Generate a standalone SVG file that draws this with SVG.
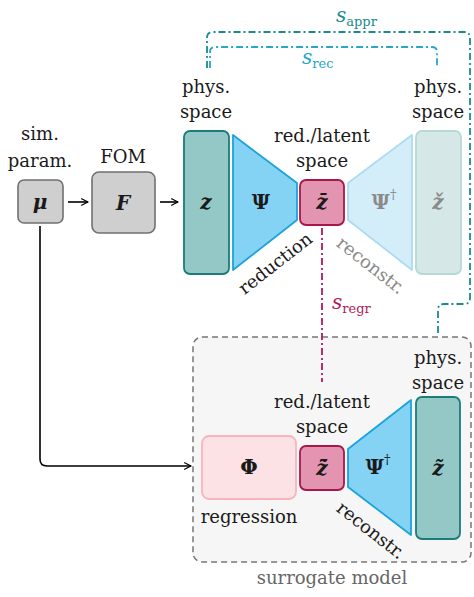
<svg xmlns="http://www.w3.org/2000/svg" width="474" height="597" viewBox="0 0 474 597" font-family="'DejaVu Serif', 'Liberation Serif', serif">
<defs>
<marker id="arr" viewBox="0 0 10 10" refX="9" refY="5" markerWidth="8" markerHeight="8" markerUnits="userSpaceOnUse" orient="auto">
<path d="M1,1 L9,5 L1,9" fill="none" stroke="#000" stroke-width="1.6" stroke-linecap="round" stroke-linejoin="round"/>
</marker>
<style>
text{fill:#1a1a1a}
.lbl{font-size:18px;text-anchor:middle}
.math{font-size:20px;text-anchor:middle;font-weight:bold;dominant-baseline:central}
.it{font-style:italic}
.gray{fill:#cfcfcf;stroke:#707070;stroke-width:1.6}
.teal{fill:#93c8c6;stroke:#1b7c7a;stroke-width:1.8}
.blue{fill:#84d3f5;stroke:#1ba3dc;stroke-width:1.8;stroke-linejoin:round}
.pink{fill:#e394b0;stroke:#a8174a;stroke-width:1.8}
.rose{fill:#fde2e5;stroke:#f6b5bd;stroke-width:1.8}
.fblue{fill:#d4eef9;stroke:#abdcf1;stroke-width:1.8;stroke-linejoin:round}
.fteal{fill:#d5e8e7;stroke:#b6d9d7;stroke-width:1.8}
.conn{fill:none;stroke:#000;stroke-width:1.6}
.dd{fill:none;stroke-width:1.8;stroke-dasharray:7 3 2 3}
</style>
</defs>

<g id="surrogate-box">
<rect x="193" y="337" width="278" height="225" rx="9" fill="#f6f6f6" stroke="#777" stroke-width="1.5" stroke-dasharray="6 4"/>
<text class="lbl" x="332" y="584" style="fill:#666">surrogate model</text>
</g>

<g id="connectors">
<path class="conn" d="M68,202 H88" marker-end="url(#arr)"/>
<path class="conn" d="M160,202 H178" marker-end="url(#arr)"/>
<path class="conn" d="M40,226 V459 Q40,466 47,466 H191" marker-end="url(#arr)"/>
<path class="dd" stroke="#1a8a8c" d="M207,68 V38 Q207,32 213,32 H464 Q470,32 470,38 V298 Q470,304 464,304 H444 Q438,304 438,310 V336"/>
<path class="dd" stroke="#26a6c8" d="M210,68 V52 Q210,47 215,47 H432 Q437,47 437,52 V68"/>
<path class="dd" stroke="#b01a5a" d="M322,228 V382"/>
<text x="336" y="22" style="font-size:20px;fill:#1a8a8c" class="it">s<tspan style="font-style:normal;font-size:13px" dy="4">appr</tspan></text>
<text x="302" y="64" style="font-size:20px;fill:#26a6c8" class="it">s<tspan style="font-style:normal;font-size:13px" dy="4">rec</tspan></text>
<text x="332" y="309" style="font-size:20px;fill:#b01a5a" class="it">s<tspan style="font-style:normal;font-size:13px" dy="4">regr</tspan></text>
</g>

<g id="mu">
<text class="lbl" x="40" y="140">sim.</text>
<text class="lbl" x="40" y="167">param.</text>
<rect class="gray" x="18" y="180" width="45" height="43" rx="6"/>
<text class="math it" x="40" y="202">μ</text>
</g>

<g id="fom">
<text class="lbl" x="123" y="163">FOM</text>
<rect class="gray" x="92" y="172" width="63" height="61" rx="7"/>
<text class="math it" x="123" y="203">F</text>
</g>

<g id="z">
<text class="lbl" x="206" y="93">phys.</text>
<text class="lbl" x="206" y="118">space</text>
<rect class="teal" x="184" y="131" width="45" height="143" rx="6"/>
<text class="math it" x="206" y="202">z</text>
</g>

<g id="psi">
<path class="blue" d="M233,135 L297,183 V220 L233,270 Z"/>
<text class="math" x="261" y="202">Ψ</text>
<text class="lbl" x="275" y="263" dominant-baseline="central" transform="rotate(-38 275 263)">reduction</text>
</g>

<g id="zbar">
<text class="lbl" x="322" y="142">red./latent</text>
<text class="lbl" x="322" y="167">space</text>
<rect class="pink" x="300" y="180" width="44" height="45" rx="6"/>
<text class="math it" x="322" y="202">z̄</text>
</g>

<g id="psidag-faded">
<path class="fblue" d="M348,183 L412,135 V270 L348,220 Z"/>
<text class="math" x="384" y="202" style="fill:#8a8a8a">Ψ<tspan style="font-size:13px;font-weight:normal" dy="-8">†</tspan></text>
<text class="lbl" x="371" y="265" dominant-baseline="central" transform="rotate(38 371 265)" style="fill:#8a8a8a">reconstr.</text>
</g>

<g id="zcheck">
<text class="lbl" x="438" y="93">phys.</text>
<text class="lbl" x="438" y="118">space</text>
<rect class="fteal" x="416" y="131" width="45" height="143" rx="6"/>
<text class="math it" x="438" y="202" style="fill:#8a8a8a">ž</text>
</g>

<g id="phi">
<rect class="rose" x="202" y="436" width="94" height="63" rx="7"/>
<text class="math" x="249" y="467">Φ</text>
<text class="lbl" x="249" y="523">regression</text>
</g>

<g id="ztildebar">
<text class="lbl" x="322" y="408">red./latent</text>
<text class="lbl" x="322" y="433">space</text>
<rect class="pink" x="300" y="446" width="44" height="44" rx="6"/>
<text class="math it" x="322" y="468">z̄̃</text>
</g>

<g id="psidag">
<path class="blue" d="M348,449 L411,400 V535 L348,487 Z"/>
<text class="math" x="378" y="467">Ψ<tspan style="font-size:13px;font-weight:normal" dy="-8">†</tspan></text>
<text class="lbl" x="371" y="530" dominant-baseline="central" transform="rotate(38 371 530)">reconstr.</text>
</g>

<g id="ztilde">
<text class="lbl" x="438" y="364">phys.</text>
<text class="lbl" x="438" y="389">space</text>
<rect class="teal" x="416" y="397" width="44" height="142" rx="6"/>
<text class="math it" x="438" y="468">z̃</text>
</g>
</svg>
